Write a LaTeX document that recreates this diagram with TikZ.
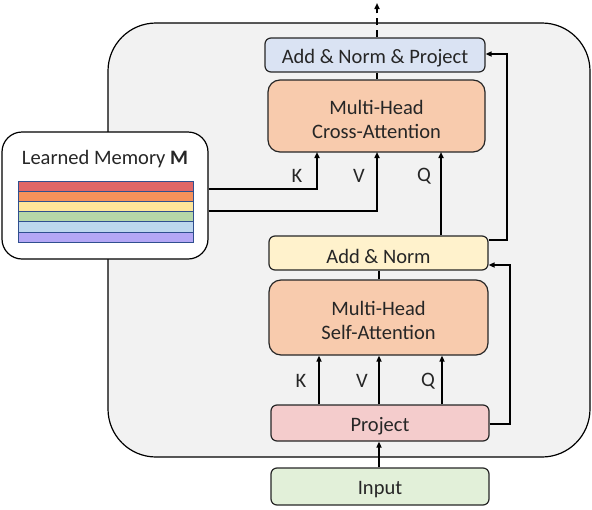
\documentclass[tikz,border=0pt]{standalone}
\usepackage{fontspec}
\setmainfont{Carlito}
\usetikzlibrary{arrows.meta,calc}
\definecolor{bgray}{HTML}{F2F2F2}
\definecolor{cblue}{HTML}{DAE3F3}
\definecolor{corange}{HTML}{F8CBAD}
\definecolor{cyellow}{HTML}{FFF2CC}
\definecolor{cpink}{HTML}{F4CCCC}
\definecolor{cgreen}{HTML}{E2F0D9}
\definecolor{s1}{HTML}{E06666}
\definecolor{s2}{HTML}{F6915A}
\definecolor{s3}{HTML}{FFE599}
\definecolor{s4}{HTML}{B6D7A8}
\definecolor{s5}{HTML}{BDD7EE}
\definecolor{s6}{HTML}{B4A7F5}
\definecolor{sedge}{HTML}{2F4F8F}
\definecolor{txt}{HTML}{262626}
\tikzset{
  blk/.style={draw=black!85, line width=1.2pt, rounded corners=6pt, inner sep=0pt},
  bigblk/.style={blk, rounded corners=12pt},
  arr/.style={line width=1.8pt, -{Triangle[length=6pt,width=5pt]}},
  ln/.style={line width=1.8pt},
  lbl/.style={font=\fontsize{20.5}{24}\selectfont, text=txt, inner sep=0pt, align=center}
}
\begin{document}
\begin{tikzpicture}[x=1pt,y=-1pt]
\useasboundingbox (0,0) rectangle (592,509);
% background container
\draw[fill=bgray, line width=1.2pt, rounded corners=48pt] (108,23) rectangle (590,457);
% boxes
\node[blk, fill=cblue, minimum width=220pt, minimum height=34pt] (anp) at (375,55) {};
\node[bigblk, fill=corange, minimum width=217pt, minimum height=72pt] (ca) at (376.5,116) {};
\node[blk, fill=cyellow, minimum width=219pt, minimum height=34pt] (an) at (378.5,253) {};
\node[bigblk, fill=corange, minimum width=219pt, minimum height=75pt] (sa) at (378.5,317.5) {};
\node[blk, fill=cpink, minimum width=218pt, minimum height=36pt] (pr) at (380,423) {};
\node[blk, fill=cgreen, minimum width=218pt, minimum height=37pt] (in) at (380,486.5) {};
\node[lbl] (anpt) at ([yshift=-3pt]anp.center) {Add \& Norm \& Project};
\node[lbl] (cat) at ([yshift=-3pt]ca.center) {Multi-Head\\Cross-Attention};
\node[lbl] (ant) at ([yshift=-3pt]an.center) {Add \& Norm};
\node[lbl] (sat) at ([yshift=-3pt]sa.center) {Multi-Head\\Self-Attention};
\node[lbl] (prt) at ([yshift=-3pt]pr.center) {Project};
\node[lbl] (int) at ([yshift=-3pt]in.center) {Input};
% memory
\node[draw=black, fill=white, line width=1.2pt, rounded corners=20pt, minimum width=206pt, minimum height=127pt, inner sep=0pt] (mem) at (105,195.5) {};
\node[lbl] (memt) at (105,159) {Learned Memory \textbf{M}};
\foreach \c [count=\i] in {s1,s2,s3,s4,s5,s6}{
  \draw[fill=\c, draw=sedge, line width=0.8pt] (18,{181+(\i-1)*10.2}) rectangle (193,{181+\i*10.2});
}
% cross attention inputs
\coordinate (k1) at (317,152);
\coordinate (v1) at (377,152);
\coordinate (q1) at (441,152);
\draw[arr] (mem.east |- 0,189) -| (k1);
\draw[arr] (mem.east |- 0,211) -| (v1);
\draw[arr] (an.north -| 441,0) -- (q1);
\node[lbl] (kl1) at (297,176) {K};
\node[lbl] (vl1) at (359,176) {V};
\node[lbl] (ql1) at (424,176) {Q};
% self attention inputs
\draw[arr] (pr.north -| 319,0) -- (sa.south -| 319,0);
\draw[arr] (pr.north -| 379,0) -- (sa.south -| 379,0);
\draw[arr] (pr.north -| 442,0) -- (sa.south -| 442,0);
\node[lbl] (kl2) at (301,381) {K};
\node[lbl] (vl2) at (362,381) {V};
\node[lbl] (ql2) at (428,381) {Q};
% connections
\draw[ln] (ca.north -| 377,0) -- (anp.south -| 377,0);
\draw[ln] (sa.north -| 379,0) -- (an.south -| 379,0);
\draw[arr] (in.north -| 379,0) -- (pr.south -| 379,0);
\draw[line width=1.8pt, dashed, dash pattern=on 7pt off 5pt, -{Triangle[length=6pt,width=5pt]}] (anp.north -| 377,0) -- (377,3);
% residuals
\draw[arr] (an.east |- 0,240) -- (507,240) -- (507,54) -- (anp.east |- 0,54);
\draw[arr] (pr.east |- 0,424) -- (510,424) -- (510,265) -- (an.east |- 0,265);
\end{tikzpicture}
\end{document}
